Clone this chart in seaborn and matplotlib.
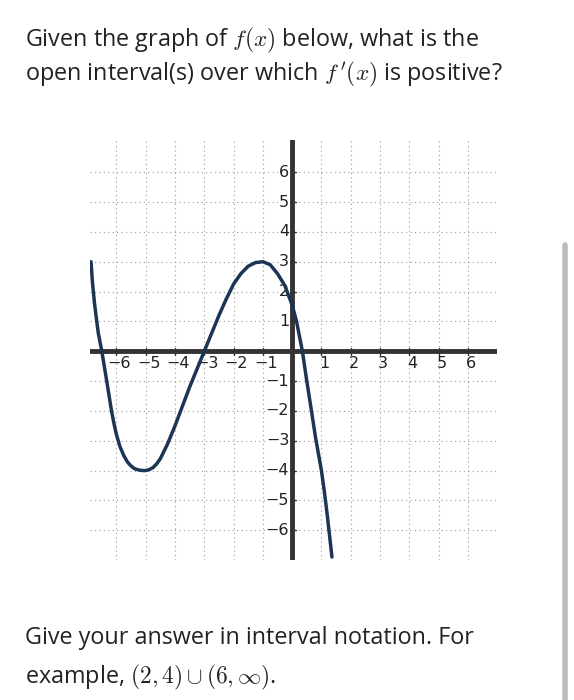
import matplotlib
matplotlib.use("Agg")
import matplotlib.pyplot as plt
import seaborn as sns
import pandas as pd

sns.set_theme(style="white")
plt.rcParams['font.family'] = ['Open Sans', 'DejaVu Sans']
plt.rcParams['mathtext.fontset'] = 'cm'

curve_x = [-6.87, -6.82, -6.75, -6.68, -6.62, -6.5, -6.4, -6.3, -6.17, -6.08, -6.0, -5.88, -5.75,
           -5.62, -5.5, -5.38, -5.25, -5.12, -5.0, -4.88, -4.75, -4.62, -4.5,
           -4.25, -4.0, -3.75, -3.5, -3.25, -3.0, -2.75, -2.5, -2.25, -2.0, -1.75, -1.5, -1.25,
           -1.0, -0.75, -0.5, -0.25, 0.0, 0.15, 0.35, 0.5, 0.66, 0.8, 1.0, 1.1, 1.2, 1.28, 1.36]
curve_y = [3.0, 2.3, 1.6, 1.05, 0.6, 0.0, -0.6, -1.2, -2.0, -2.45, -2.8, -3.2, -3.5,
           -3.72, -3.85, -3.94, -3.98, -4.0, -4.0, -3.97, -3.9, -3.77, -3.6,
           -3.1, -2.5, -1.85, -1.2, -0.6, 0.0, 0.6, 1.2, 1.75, 2.25, 2.6, 2.85, 2.97,
           3.0, 2.9, 2.6, 2.2, 1.55, 1.0, 0.0, -1.0, -2.0, -2.9, -4.0, -4.7, -5.5, -6.2, -6.9]
ticks = [-6, -5, -4, -3, -2, -1, 1, 2, 3, 4, 5, 6]

df = pd.DataFrame({"x": curve_x, "y": curve_y})

fig = plt.figure(figsize=(5.74, 7.0), dpi=100)
ax = fig.add_axes([0.157, 0.2, 0.709, 0.6])
ax.set_xlim(-6.9, 7.0)
ax.set_ylim(-7.0, 7.08)
for t in ticks:
    ax.axvline(t, color="#999999", lw=0.8, ls=(0, (1, 3)), zorder=0)
    ax.axhline(t, color="#999999", lw=0.8, ls=(0, (1, 3)), zorder=0)
ax.axhline(0, color="#333333", lw=3.5, zorder=2)
ax.axvline(0, color="#333333", lw=3.5, zorder=2)
for t in ticks:
    lab = "\u2212%d" % -t if t < 0 else str(t)
    ax.plot([t, t], [-0.12, 0.12], color="#333333", lw=1, zorder=2)
    ax.plot([-0.12, 0.12], [t, t], color="#333333", lw=1, zorder=2)
    ax.text(t + 0.1, -0.15, lab, ha="center", va="top",
            fontsize=11.5, color="#222222", family="DejaVu Sans", zorder=3)
    ax.text(-0.1, t, lab, ha="right", va="center",
            fontsize=11.5, color="#222222", family="DejaVu Sans", zorder=3,
            bbox=dict(facecolor="white", edgecolor="none", pad=0.5))
sns.lineplot(data=df, x="x", y="y", sort=False, ax=ax, color="#1c3554", lw=2.5, zorder=4)
ax.set_xticks([]); ax.set_yticks([])
ax.set_xlabel(""); ax.set_ylabel("")
for s in ax.spines.values():
    s.set_visible(False)

fs = 16.8
fig.text(25/574, 1 - 40/700, r"Given the graph of $f(x)$ below, what is the", fontsize=fs, va="center", color="#222222")
fig.text(25/574, 1 - 74/700, r"open interval(s) over which $f\,'(x)$ is positive?", fontsize=fs, va="center", color="#222222")
fig.text(25/574, 1 - 638/700, "Give your answer in interval notation. For", fontsize=fs, va="center", color="#222222")
fig.text(25/574, 1 - 677/700, r"example, $(2,4)\cup(6,\infty)$.", fontsize=fs, va="center", color="#222222")
fig.add_artist(plt.Line2D([565/574, 565/574], [0, 1 - 245/700], color="#bbbbbb", lw=4))
fig.savefig("out.png", dpi=100)
